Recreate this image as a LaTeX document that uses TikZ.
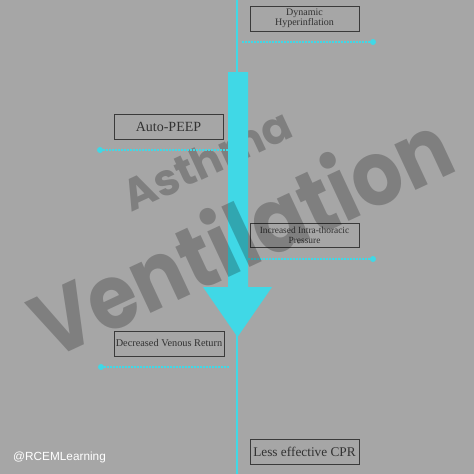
\documentclass[tikz,border=0pt]{standalone}
\usepackage{fontspec}
\setmainfont{Liberation Serif}
\newfontfamily\wmfont{Poppins}
\newfontfamily\tagfont{Liberation Sans}
\definecolor{bg}{RGB}{166,166,166}
\definecolor{cy}{RGB}{64,216,230}
\definecolor{boxline}{RGB}{58,58,58}
\definecolor{boxtext}{RGB}{50,50,50}
\begin{document}
\begin{tikzpicture}[x=1pt,y=-1pt,
  box/.style={draw=boxline,line width=1pt,inner sep=0pt,align=center,text=boxtext},
  dotline/.style={cy,line width=1.2pt,dash pattern=on 1.5pt off 1.5pt},
  enddot/.style={circle,fill=cy,inner sep=0pt,minimum size=6pt},
  wm/.style={text=black,text opacity=0.23,font=\wmfont\bfseries,inner sep=0pt}]
\fill[bg] (0,0) rectangle (474,474);
\useasboundingbox (0,0) rectangle (474,474);
% thin vertical line
\draw[cy,line width=2.6pt] (237,0) -- (237,474);
% Asthma watermark (under arrow)
\node[wm,font=\wmfont\bfseries\fontsize{44}{44}\selectfont,rotate=25] (asthma) at (207,160) {Asthma};
% big arrow
\fill[cy] (228,72) -- (248,72) -- (248,287) -- (272,287) -- (237.5,337) -- (203,287) -- (228,287) -- cycle;
% boxes
\node[box,minimum width=109pt,minimum height=25pt,font=\fontsize{10}{10.5}\selectfont] (dh) at (304.5,18.5) {Dynamic\\Hyperinflation};
\node[box,minimum width=109pt,minimum height=25pt,font=\fontsize{14}{14}\selectfont] (ap) at (168.5,126.5) {Auto-PEEP};
\node[box,minimum width=109pt,minimum height=24pt,font=\fontsize{9.4}{10}\selectfont] (iitp) at (304.5,235) {Increased Intra-thoracic\\Pressure};
\node[box,minimum width=110pt,minimum height=25pt,font=\fontsize{10.3}{10.3}\selectfont] (dvr) at (169,343.5) {Decreased Venous Return};
\node[box,minimum width=109pt,minimum height=25pt,font=\fontsize{13.3}{13.3}\selectfont] (cpr) at (304.5,451.5) {Less effective CPR};
% dotted lines
\coordinate (d1a) at (242,42); \coordinate (d1b) at (373,42);
\draw[dotline] (d1a) -- (d1b); \node[enddot] (d1e) at (d1b) {};
\coordinate (d2a) at (100,150); \coordinate (d2b) at (230,150);
\draw[dotline] (d2a) -- (d2b); \node[enddot] (d2e) at (d2a) {};
\coordinate (d3a) at (242,259); \coordinate (d3b) at (373,259);
\draw[dotline] (d3a) -- (d3b); \node[enddot] (d3e) at (d3b) {};
\coordinate (d4a) at (101,367); \coordinate (d4b) at (230,367);
\draw[dotline] (d4a) -- (d4b); \node[enddot] (d4e) at (d4a) {};
% Ventilation watermark (over everything)
\node[wm,font=\wmfont\bfseries\fontsize{90}{90}\selectfont,rotate=25,xscale=0.88] (vent) at (240,233) {Ventilation};
% tag
\node[text=white,font=\tagfont\fontsize{11.8}{11.8}\selectfont,anchor=west,inner sep=0pt] (tag) at (13,457) {@RCEMLearning};
\end{tikzpicture}
\end{document}
